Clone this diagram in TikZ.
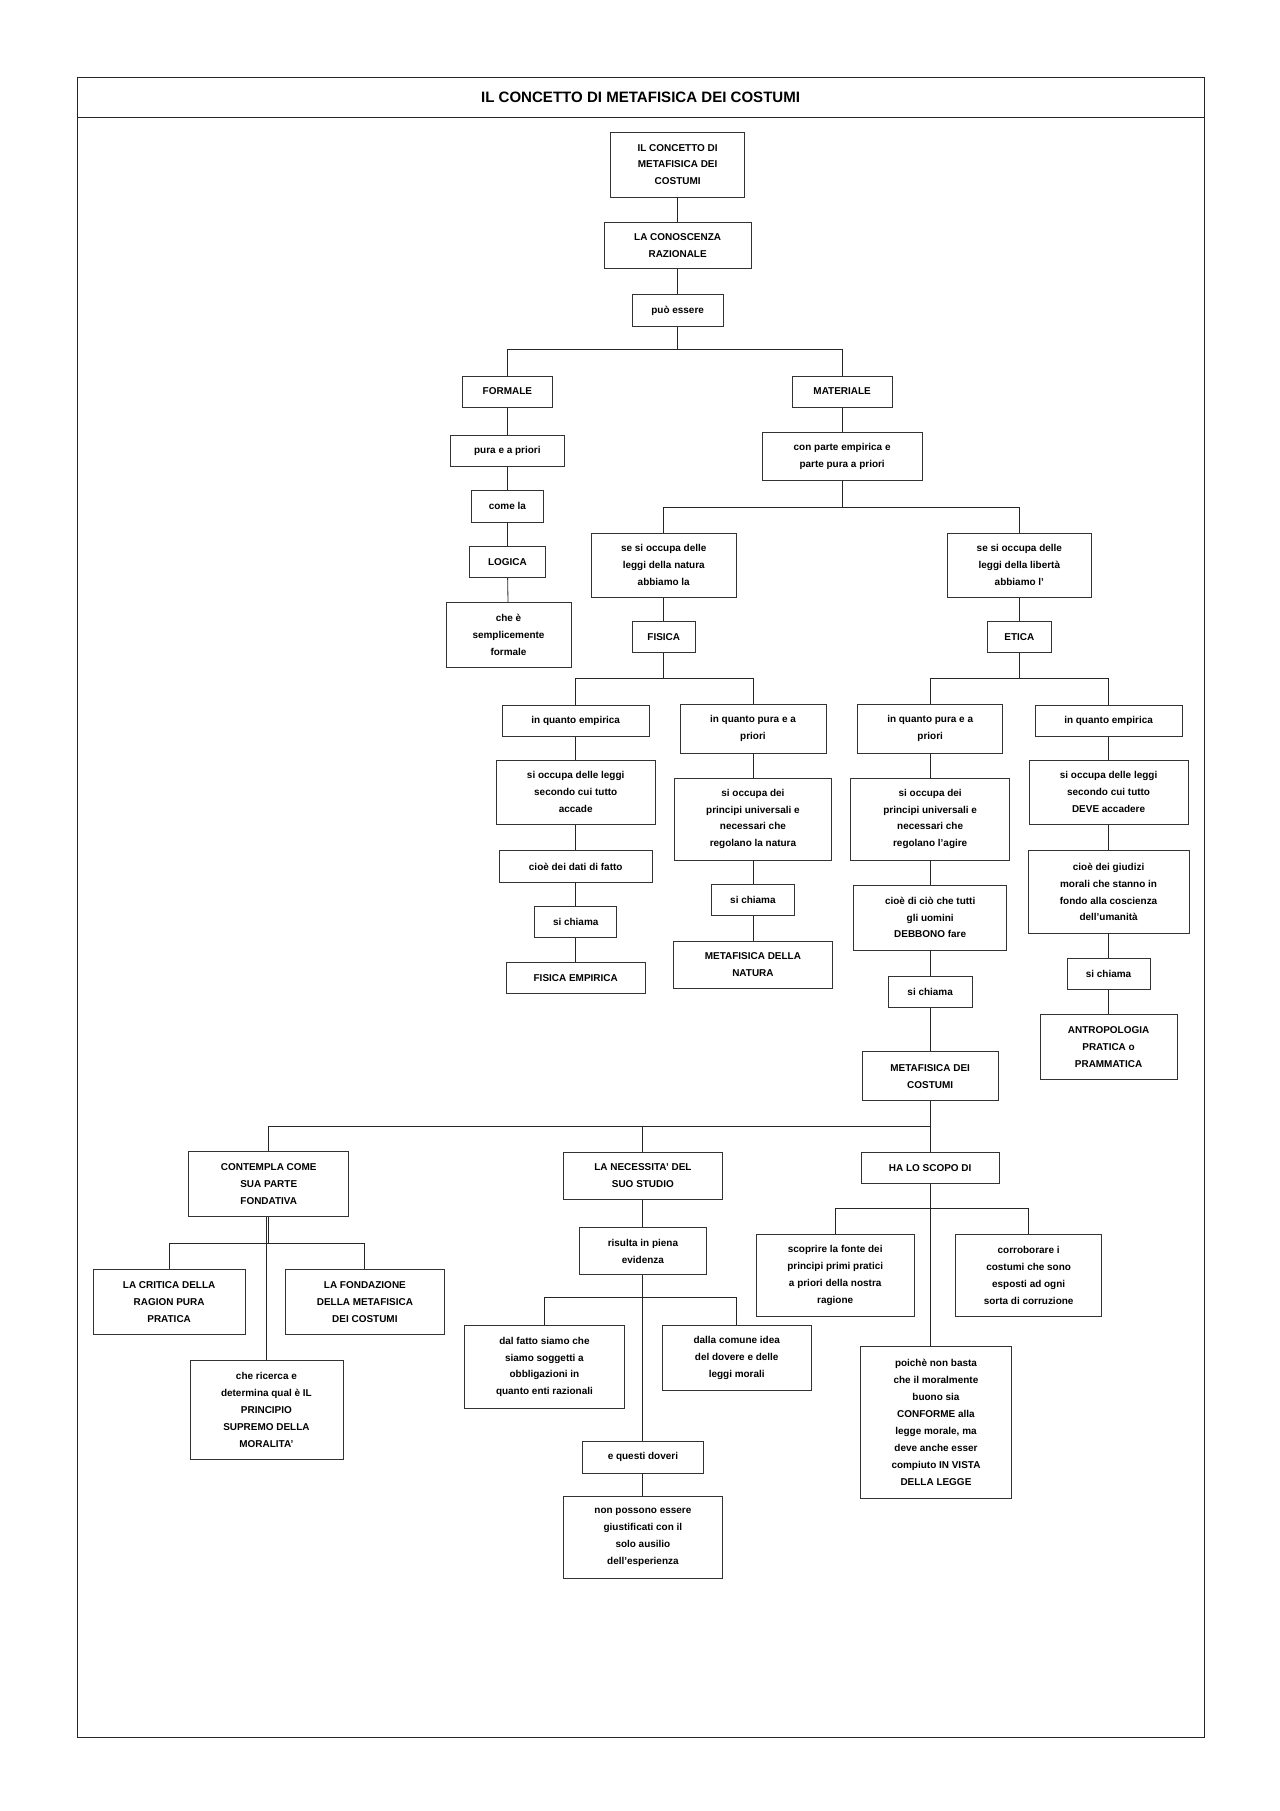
\documentclass[tikz,border=0pt]{standalone}
\usepackage{fontspec}
\setmainfont{Liberation Sans}
\begin{document}
\begin{tikzpicture}[x=1pt,y=-1pt,
  bx/.style={draw=black!80,fill=white,line width=0.6pt,align=center,inner sep=1pt,
    font=\fontsize{8.6}{14.6}\selectfont\bfseries},
  ln/.style={draw=black!85,line width=0.7pt}]
\newcommand{\bx}[6]{\node[bx,minimum width=#4pt,minimum height=#5pt] (#1) at (#2,#3) {#6};}
\useasboundingbox (0,0) rectangle (1105,1563.4);
\draw[ln] (67,67) rectangle (1040,1500);
\draw[ln] (67,101) -- (1040,101);
\node[font=\fontsize{13}{15}\selectfont\bfseries] (title) at (553,84) {IL CONCETTO DI METAFISICA DEI COSTUMI};
% connectors
\coordinate (c0) at (0,0);
\newcommand{\branch}[4]{% parent, y, child1, child2
  \draw[ln] (#1.south) -- (#1.south |- 0,#2);
  \draw[ln] (#3.north) -- (#3.north |- 0,#2) -- (#4.north |- 0,#2) -- (#4.north);}
% nodes
\bx{n1}{585}{142}{116}{56}{IL CONCETTO DI\\METAFISICA DEI\\COSTUMI}
\bx{n2}{585}{212}{127}{40}{LA CONOSCENZA\\RAZIONALE}
\bx{n3}{585}{268}{79}{28}{può essere}
\bx{form}{438}{338}{77}{27}{FORMALE}
\bx{mat}{727}{338}{86}{27}{MATERIALE}
\bx{pura}{438}{389}{99}{27}{pura e a priori}
\bx{come}{438}{437}{62}{27}{come la}
\bx{logica}{438}{485}{65}{27}{LOGICA}
\bx{semp}{439}{548}{108}{56}{che è\\semplicemente\\formale}
\bx{cpe}{727}{394}{138}{42}{con parte empirica e\\parte pura a priori}
\bx{snat}{573}{488}{125}{56}{se si occupa delle\\leggi della natura\\abbiamo la}
\bx{slib}{880}{488}{125}{56}{se si occupa delle\\leggi della libertà\\abbiamo l'}
\bx{fisica}{573}{550}{55}{27}{FISICA}
\bx{etica}{880}{550}{55}{27}{ETICA}
\bx{fe}{497}{622}{127}{27}{in quanto empirica}
\bx{fp}{650}{629}{126}{42}{in quanto pura e a\\priori}
\bx{ep}{803}{629}{125}{42}{in quanto pura e a\\priori}
\bx{ee}{957}{622}{127}{27}{in quanto empirica}
\bx{fe1}{497}{684}{137}{56}{si occupa delle leggi\\secondo cui tutto\\accade}
\bx{fe2}{497}{748}{132}{27}{cioè dei dati di fatto}
\bx{fe3}{497}{796}{71}{27}{si chiama}
\bx{fe4}{497}{844}{120}{27}{FISICA EMPIRICA}
\bx{fp1}{650}{707}{136}{71}{si occupa dei\\principi universali e\\necessari che\\regolano la natura}
\bx{fp2}{650}{777}{72}{27}{si chiama}
\bx{fp3}{650}{833}{137}{41}{METAFISICA DELLA\\NATURA}
\bx{ep1}{803}{707}{137}{71}{si occupa dei\\principi universali e\\necessari che\\regolano l'agire}
\bx{ep2}{803}{792}{132}{56}{cioè di ciò che tutti\\gli uomini\\DEBBONO fare}
\bx{ep3}{803}{856}{72}{27}{si chiama}
\bx{mdc}{803}{929}{117}{42}{METAFISICA DEI\\COSTUMI}
\bx{ee1}{957}{684}{137}{56}{si occupa delle leggi\\secondo cui tutto\\DEVE accadere}
\bx{ee2}{957}{770}{139}{71}{cioè dei giudizi\\morali che stanno in\\fondo alla coscienza\\dell'umanità}
\bx{ee3}{957}{841}{72}{27}{si chiama}
\bx{ee4}{957}{904}{118}{56}{ANTROPOLOGIA\\PRATICA o\\PRAMMATICA}
\bx{cont}{232}{1022}{138}{56}{CONTEMPLA COME\\SUA PARTE\\FONDATIVA}
\bx{nec}{555}{1015}{138}{41}{LA NECESSITA' DEL\\SUO STUDIO}
\bx{scopo}{803}{1008}{119}{27}{HA LO SCOPO DI}
\bx{crit}{146}{1124}{131}{56}{LA CRITICA DELLA\\RAGION PURA\\PRATICA}
\bx{fond}{315}{1124}{138}{56}{LA FONDAZIONE\\DELLA METAFISICA\\DEI COSTUMI}
\bx{ric}{230}{1217}{132}{86}{che ricerca e\\determina qual è IL\\PRINCIPIO\\SUPREMO DELLA\\MORALITA'}
\bx{ris}{555}{1080}{110}{41}{risulta in piena\\evidenza}
\bx{dal}{470}{1180}{138}{71}{dal fatto siamo che\\siamo soggetti a\\obbligazioni in\\quanto enti razionali}
\bx{com}{636}{1172}{128}{56}{dalla comune idea\\del dovere e delle\\leggi morali}
\bx{qd}{555}{1258}{104}{27}{e questi doveri}
\bx{np}{555}{1327}{137}{71}{non possono essere\\giustificati con il\\solo ausilio\\dell'esperienza}
\bx{sco}{721}{1101}{137}{70}{scoprire la fonte dei\\principi primi pratici\\a priori della nostra\\ragione}
\bx{cor}{888}{1101}{126}{70}{corroborare i\\costumi che sono\\esposti ad ogni\\sorta di corruzione}
\bx{poi}{808}{1228}{130}{131}{poichè non basta\\che il moralmente\\buono sia\\CONFORME alla\\legge morale, ma\\deve anche esser\\compiuto IN VISTA\\DELLA LEGGE}
% edges
\begin{scope}[on background layer/.style={}]
\end{scope}
\draw[ln] (n1) -- (n2); \draw[ln] (n2) -- (n3);
\branch{n3}{302}{form}{mat}
\draw[ln] (form) -- (pura); \draw[ln] (pura) -- (come); \draw[ln] (come) -- (logica); \draw[ln] (logica) -- (semp);
\draw[ln] (mat) -- (cpe);
\branch{cpe}{438}{snat}{slib}
\draw[ln] (snat) -- (fisica); \draw[ln] (slib) -- (etica);
\branch{fisica}{586}{fe}{fp}
\branch{etica}{586}{ep}{ee}
\draw[ln] (fe) -- (fe1); \draw[ln] (fe1) -- (fe2); \draw[ln] (fe2) -- (fe3); \draw[ln] (fe3) -- (fe4);
\draw[ln] (fp) -- (fp1); \draw[ln] (fp1) -- (fp2); \draw[ln] (fp2) -- (fp3);
\draw[ln] (ep) -- (ep1); \draw[ln] (ep1) -- (ep2); \draw[ln] (ep2) -- (ep3); \draw[ln] (ep3) -- (mdc);
\draw[ln] (ee) -- (ee1); \draw[ln] (ee1) -- (ee2); \draw[ln] (ee2) -- (ee3); \draw[ln] (ee3) -- (ee4);
\draw[ln] (mdc.south) -- (scopo.north);
\draw[ln] (cont.north) -- (cont.north |- 0,972) -- (scopo.north |- 0,972);
\draw[ln] (nec.north) -- (nec.north |- 0,972);
\branch{cont}{1073}{crit}{fond}
\draw[ln] (ric.north) -- (ric.north |- cont.south);
\draw[ln] (nec) -- (ris);
\branch{ris}{1120}{dal}{com}
\draw[ln] (ris.south) -- (qd.north); \draw[ln] (qd) -- (np);
\branch{scopo}{1043}{sco}{cor}
\draw[ln] (scopo.south) -- (scopo.south |- poi.north);
\end{tikzpicture}
\end{document}
